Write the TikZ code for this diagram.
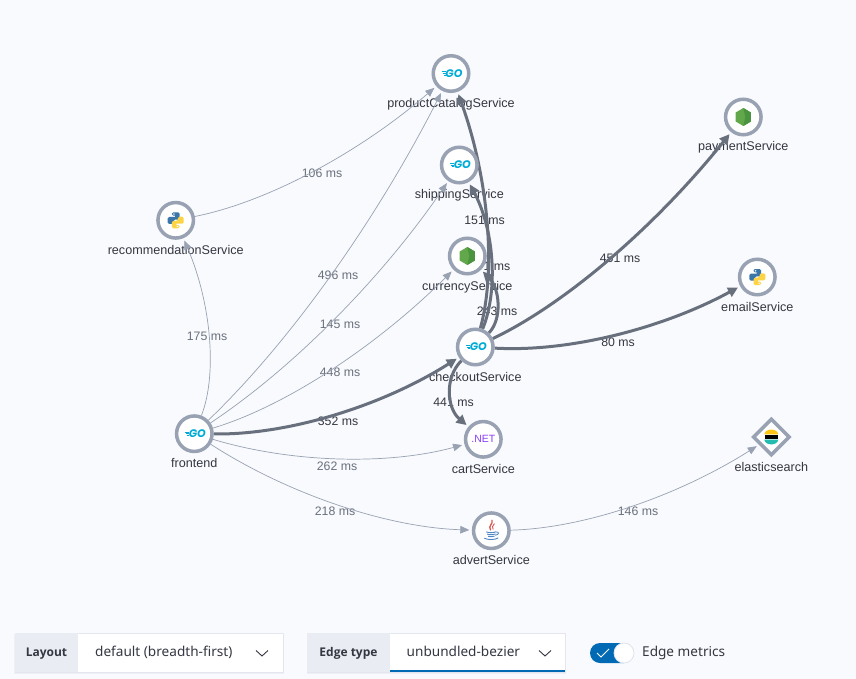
\documentclass[tikz,border=0pt]{standalone}
\usepackage{fontspec}
\setmainfont{Liberation Sans}
\newfontfamily\uifont{Noto Sans}
\newfontfamily\uibold{Open Sans}
\newfontfamily\gofont{Poppins}
\usetikzlibrary{arrows.meta,shapes.geometric,calc}
\pgfdeclarelayer{under}
\pgfdeclarelayer{lines}
\pgfsetlayers{under,lines,main}
\definecolor{pagebg}{HTML}{F9FAFD}
\definecolor{ring}{HTML}{98A2B3}
\definecolor{thinedge}{HTML}{98A2B3}
\definecolor{thickedge}{HTML}{69707D}
\definecolor{nodetext}{HTML}{343741}
\definecolor{edgetext}{HTML}{69707D}
\definecolor{uilabel}{HTML}{E9EDF3}
\definecolor{uiborder}{HTML}{E3E6EF}
\definecolor{uiblue}{HTML}{006BB4}
\definecolor{gocyan}{HTML}{00ACD7}
\definecolor{pyblue}{HTML}{3A77A8}
\definecolor{pyyellow}{HTML}{FDD445}
\definecolor{hexlight}{HTML}{62A84A}
\definecolor{hexdark}{HTML}{4A9440}
\definecolor{netpurple}{HTML}{8A3FFC}
\definecolor{javared}{HTML}{D9574F}
\definecolor{javablue}{HTML}{4F86C6}
\definecolor{esteal}{HTML}{24BBB1}
\definecolor{esyellow}{HTML}{FEC514}
\newcommand{\qedge}[4]{\draw[#1] (#2) .. controls ($(#2)!0.6667!(#4)$) and ($(#3)!0.6667!(#4)$) .. (#3);}
\tikzset{
  svc/.style={circle,draw=ring,fill=white,line width=3.5pt,minimum size=35.5pt,inner sep=0pt},
  dbsvc/.style={diamond,draw=ring,fill=white,line width=3.5pt,minimum width=37pt,minimum height=37pt,inner sep=0pt,aspect=1},
  nlabel/.style={font=\fontsize{12.6}{14}\selectfont,text=nodetext,text height=8.5pt,text depth=2.5pt,inner sep=0pt},
  elabel/.style={font=\fontsize{12.3}{14}\selectfont,text=edgetext,text height=8.5pt,text depth=2.5pt,inner sep=0pt},
  elabeldark/.style={elabel,text=nodetext},
  thinline/.style={draw=thinedge,line width=0.7pt,shorten >=2.5pt,-{Triangle[length=9pt,width=7.5pt,fill=thinedge]}},
  thickline/.style={draw=thickedge,line width=3pt,shorten >=2.5pt,-{Triangle[length=10pt,width=10pt,fill=thickedge]}},
  uibox/.style={draw=uiborder,line width=0.8pt,fill=white},
  uilab/.style={font=\uibold\fontsize{12}{14}\selectfont\bfseries,text=nodetext,inner sep=0pt},
  uival/.style={font=\uifont\fontsize{13.6}{16}\selectfont,text=nodetext,inner sep=0pt,text height=10pt,text depth=3pt},
  chev/.style={draw=nodetext,line width=0.9pt},
  goicon/.pic={
    \node[font=\gofont\fontsize{11}{12}\selectfont\bfseries\itshape,text=gocyan,inner sep=0pt] at (3,0) {GO};
    \draw[gocyan,line width=0.5pt] (-9.5,-1.8)--(-5,-1.8) (-8,-0.2)--(-5,-0.2) (-7,1.4)--(-5,1.4);
  },
  hexicon/.pic={
    \fill[hexlight] (0,-9)--(7.6,-4.5)--(7.6,4.5)--(0,9)--(-7.6,4.5)--(-7.6,-4.5)--cycle;
    \fill[hexdark] (0,-9)--(7.6,-4.5)--(7.6,4.5)--(0,9)--(2,0)--cycle;
  },
  pyicon/.pic={
    \fill[pyblue,rounded corners=1.4pt] (-3.8,-8)--(3.8,-8)--(3.8,-0.6)--(-2.2,-0.6)--(-2.2,3.6)--(-8,3.6)--(-8,-3.4)--(0.5,-3.4)--(0.5,-4.6)--(-3.8,-4.6)--cycle;
    \fill[pyyellow,rounded corners=1.4pt] (3.8,8)--(-3.8,8)--(-3.8,0.6)--(2.2,0.6)--(2.2,-3.6)--(8,-3.6)--(8,3.4)--(-0.5,3.4)--(-0.5,4.6)--(3.8,4.6)--cycle;
    \fill[white] (-1.8,-6.2) circle (0.8);
    \fill[white] (1.8,6.2) circle (0.8);
  },
  neticon/.pic={
    \node[font=\fontsize{10.5}{12}\selectfont,text=netpurple,inner sep=0pt] at (0,0) {.NET};
  },
  javaicon/.pic={
    \draw[javared,line width=1.3pt,line cap=round] (0.6,-10.5) .. controls (2.2,-6.5) and (-3.6,-5) .. (-0.8,-0.8);
    \draw[javared,line width=0.9pt,line cap=round] (3,-7) .. controls (1,-5) and (0.6,-3) .. (1.8,-1.5);
    \draw[javablue,line width=0.9pt] (-5,1.2) .. controls (-2,2.2) and (2,2.2) .. (5,1);
    \draw[javablue,line width=0.9pt] (-4.2,3.4) .. controls (-2,4.2) and (2,4.2) .. (4.2,3.2);
    \draw[javablue,line width=0.9pt] (-3.2,5.6) .. controls (-1,6.2) and (1,6.2) .. (3.2,5.4);
    \draw[javablue,line width=0.8pt] (5,1.4) .. controls (8,0.6) and (8,4) .. (4,4.6);
    \draw[javablue,line width=0.9pt] (-7,7.6) .. controls (-3,9.3) and (3.5,9.3) .. (7,7.2);
  },
  esicon/.pic={
    \fill[esyellow] (-7,-2.7) .. controls (-6,-9) and (6,-9) .. (7,-2.7)--cycle;
    \fill[black] (-6.5,-2.2) -- (6.5,-2.2) -- (6.5,2.2) -- (-6.5,2.2) --cycle;
    \fill[esteal] (-7,2.7) .. controls (-6,9) and (6,9) .. (7,2.7)--cycle;
  },
}
\begin{document}
\begin{tikzpicture}[x=1pt,y=-1pt]
\useasboundingbox (0,0) rectangle (856,679);
\begin{pgfonlayer}{under}
\fill[pagebg] (0,0) rectangle (856,679);
\end{pgfonlayer}

% service nodes
\node[svc] (productCatalogService) at (451,73.5) {};
\node[svc] (shippingService) at (459.3,165) {};
\node[svc] (currencyService) at (467.3,256) {};
\node[svc] (checkoutService) at (475.3,347) {};
\node[svc] (cartService) at (483.3,439.3) {};
\node[svc] (advertService) at (491.3,530.7) {};
\node[svc] (paymentService) at (743.3,117) {};
\node[svc] (emailService) at (757.3,277) {};
\node[svc] (recommendationService) at (175.7,220.3) {};
\node[svc] (frontend) at (194.3,433.7) {};
\node[dbsvc] (elasticsearch) at (771.3,437) {};

% icons
\pic at (productCatalogService) {goicon};
\pic at (shippingService) {goicon};
\pic at (checkoutService) {goicon};
\pic at (frontend) {goicon};
\pic at (currencyService) {hexicon};
\pic at (paymentService) {hexicon};
\pic at (recommendationService) {pyicon};
\pic at (emailService) {pyicon};
\pic at (cartService) {neticon};
\pic at (advertService) {javaicon};
\pic at (elasticsearch) {esicon};

% node labels
\begin{pgfonlayer}{under}
\foreach \n in {productCatalogService,shippingService,currencyService,checkoutService,cartService,advertService,paymentService,emailService,recommendationService,frontend,elasticsearch}{
  \node[nlabel] (\n Label) at ([yshift=-31pt]\n) {\n};
}
% edge labels
\node[elabel] (l106) at (322,175) {106 ms};
\node[elabel] (l175) at (207,337) {175 ms};
\node[elabel] (l496) at (338,276) {496 ms};
\node[elabel] (l145) at (340,325) {145 ms};
\node[elabel] (l448) at (340,373) {448 ms};
\node[elabeldark] (l352) at (338,422) {352 ms};
\node[elabel] (l262) at (337,467) {262 ms};
\node[elabel] (l218) at (335,512) {218 ms};
\node[elabel] (l146) at (638,512) {146 ms};
\node[elabeldark] (l151) at (484.5,221) {151 ms};
\node[elabeldark,anchor=east] (lhid) at (510.5,267) {1 ms};
\node[elabeldark] (l243) at (497,312) {243 ms};
\node[elabeldark] (l441) at (453.5,403) {441 ms};
\node[elabeldark] (l451) at (620,259) {451 ms};
\node[elabeldark] (l80) at (618,343) {80 ms};
\end{pgfonlayer}

% connectors
\begin{pgfonlayer}{lines}
\qedge{thinline}{frontend}{recommendationService}{229,345}
\qedge{thinline}{recommendationService}{productCatalogService}{312.6,193}
\qedge{thinline}{frontend}{productCatalogService}{337.35,296.4}
\qedge{thinline}{frontend}{shippingService}{343.2,334.65}
\qedge{thinline}{frontend}{currencyService}{329.2,393.15}
\qedge{thinline}{frontend}{cartService}{341.2,478}
\qedge{thinline}{frontend}{advertService}{337.2,525.8}
\qedge{thinline}{advertService}{elasticsearch}{628.7,527}
\qedge{thickline}{frontend}{checkoutService}{335.2,435.65}
\qedge{thickline}{checkoutService}{productCatalogService}{507,230}
\qedge{thickline}{checkoutService}{shippingService}{510.7,260}
\qedge{thickline}{checkoutService}{currencyService}{516,305}
\qedge{thickline}{checkoutService}{cartService}{428.7,392.85}
\qedge{thickline}{checkoutService}{paymentService}{610.7,282}
\qedge{thickline}{checkoutService}{emailService}{613.7,355}
\end{pgfonlayer}

% controls
\fill[uiborder!60] (14,634) rectangle (283.5,673.5);
\node[uibox,minimum width=268pt,minimum height=39pt,anchor=north west,inner sep=0pt] (layoutBox) at (14.5,633) {};
\fill[uilabel] (layoutBox.north west) rectangle (78,672);
\node[uilab] (layoutLab) at (46.5,653.5) {Layout};
\node[uival,anchor=west] (layoutVal) at (95,653) {default (breadth-first)};
\draw[chev] (256,650.5)--(262,656)--(268,650.5);

\fill[uiborder!60] (307,634) rectangle (566,673.5);
\node[uibox,minimum width=258pt,minimum height=39pt,anchor=north west,inner sep=0pt] (edgeBox) at (307,633) {};
\fill[uilabel] (edgeBox.north west) rectangle (390,672);
\fill[uiblue] (390,670) rectangle (565,672);
\node[uilab] (edgeLab) at (348.5,653.5) {Edge type};
\node[uival,anchor=west] (edgeVal) at (406.5,653) {unbundled-bezier};
\draw[chev] (539,650.5)--(545,656)--(551,650.5);

\fill[uiblue,rounded corners=10pt] (590,643) rectangle (634,663);
\draw[white,line width=0.9pt] (597,653)--(601,657)--(609,649);
\node[circle,fill=white,draw=uiborder,line width=0.8pt,minimum size=20pt,inner sep=0pt] (knob) at (624,653) {};
\node[uival,anchor=west] (metricsLab) at (642,653) {Edge metrics};
\end{tikzpicture}
\end{document}
